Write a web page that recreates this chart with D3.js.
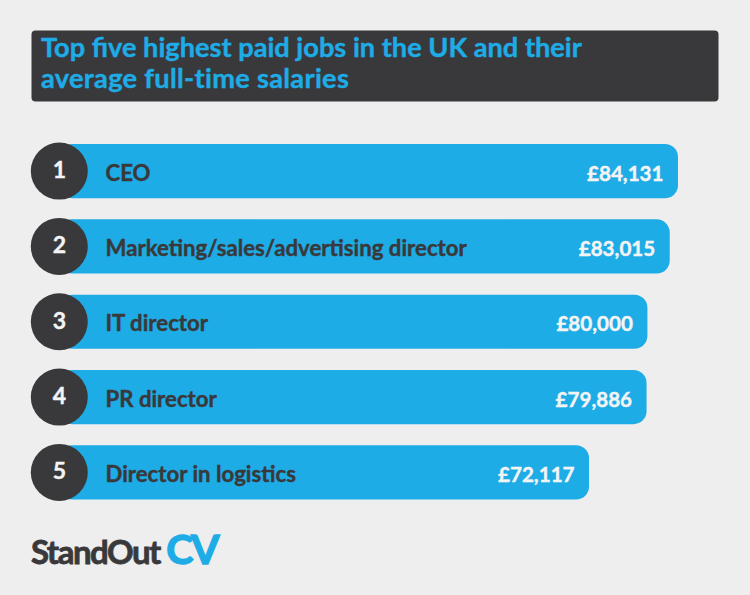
<!DOCTYPE html>
<html>
<head>
<meta charset="utf-8">
<script src="https://cdn.jsdelivr.net/npm/d3@7"></script>
<style>
  html, body { margin: 0; padding: 0; background: #eeeeee; }
  svg { display: block; }
  text { font-family: Lato, "Open Sans", sans-serif; font-weight: 700; }
</style>
</head>
<body>
<svg id="board"></svg>
<script>
const titleLines = ["Top five highest paid jobs in the UK and their", "average full-time salaries"];
const ranks = [1, 2, 3, 4, 5];
const jobs = ["CEO", "Marketing/sales/advertising director", "IT director", "PR director", "Director in logistics"];
const salaries = [84131, 83015, 80000, 79886, 72117];

const width = 750, height = 595;
const darkGrey = "#39393b", blue = "#1eace6", offWhite = "#f4f4f4";

const svg = d3.select("#board").attr("width", width).attr("height", height);
svg.append("rect").attr("width", width).attr("height", height).attr("fill", "#eeeeee");

// title box
svg.append("rect")
    .attr("x", 31.5).attr("y", 30.5).attr("width", 687).attr("height", 71)
    .attr("rx", 4).attr("fill", darkGrey);
svg.selectAll(".title").data(titleLines).join("text")
    .attr("class", "title")
    .attr("x", 41)
    .attr("y", (d, i) => 57 + i * 31)
    .attr("font-size", 27.2)
    .attr("letter-spacing", (d, i) => i ? 0.3 : 0)
    .attr("fill", blue)
    .attr("stroke", blue)
    .attr("stroke-width", 0.4)
    .text(d => d);

const x = d3.scaleLinear().domain([0, 84131]).range([55, 678]);
const y = d3.scaleBand().domain(ranks).range([144, 499.5]).paddingInner(0.28);
const circleX = 59.3;

const rows = svg.selectAll(".row").data(ranks).join("g")
    .attr("class", "row")
    .attr("transform", d => `translate(0,${y(d)})`);

rows.append("rect")
    .attr("x", circleX)
    .attr("width", (d, i) => x(salaries[i]) - circleX)
    .attr("height", y.bandwidth())
    .attr("rx", 13)
    .attr("fill", blue);

rows.append("circle")
    .attr("cx", circleX)
    .attr("cy", y.bandwidth() / 2)
    .attr("r", 28.5)
    .attr("fill", darkGrey);

rows.append("text")
    .attr("x", circleX)
    .attr("y", y.bandwidth() / 2 + 7)
    .attr("text-anchor", "middle")
    .attr("font-size", 23)
    .attr("fill", offWhite)
    .attr("stroke", offWhite)
    .attr("stroke-width", 0.4)
    .text(d => d);

rows.append("text")
    .attr("x", 105.5)
    .attr("y", y.bandwidth() / 2 + 9.5)
    .attr("font-size", 22.2)
    .attr("fill", darkGrey)
    .attr("stroke", darkGrey)
    .attr("stroke-width", 0.4)
    .text((d, i) => jobs[i]);

rows.append("text")
    .attr("x", (d, i) => x(salaries[i]) - 14.5)
    .attr("y", y.bandwidth() / 2 + 9.5)
    .attr("text-anchor", "end")
    .attr("font-size", 20.6)
    .attr("fill", offWhite)
    .attr("stroke", offWhite)
    .attr("stroke-width", 0.4)
    .text((d, i) => "£" + d3.format(",")(salaries[i]));

// logo
const logo = svg.append("text").attr("x", 31).attr("y", 564);
logo.append("tspan")
    .attr("font-size", 33).attr("letter-spacing", -1.5)
    .attr("fill", darkGrey).attr("stroke", darkGrey).attr("stroke-width", 0.8)
    .text("StandOut");
logo.append("tspan")
    .attr("dx", 6.5).attr("font-size", 41).attr("letter-spacing", -2.5)
    .attr("fill", blue).attr("stroke", blue).attr("stroke-width", 1.4)
    .text("CV");
</script>
</body>
</html>
